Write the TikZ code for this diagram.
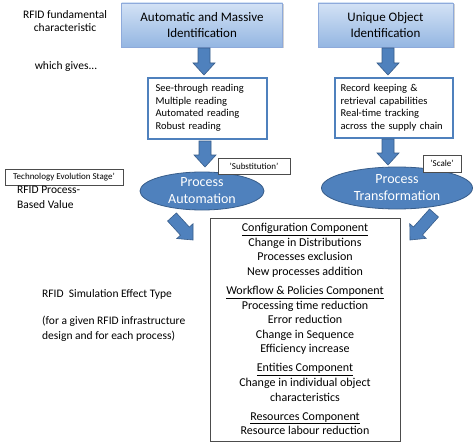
\documentclass[tikz,border=0pt]{standalone}
\usepackage{fontspec}
\setmainfont{Carlito}
\usetikzlibrary{shapes.geometric,shadows,calc}
\definecolor{boxtop}{HTML}{D3E2F5}
\definecolor{boxbot}{HTML}{94B6E2}
\definecolor{boxline}{HTML}{8EAADB}
\definecolor{accent}{HTML}{4F81BD}
\definecolor{accentdark}{HTML}{385D8A}
\tikzset{
  titlebox/.style={draw=boxline, line width=0.8pt, top color=boxtop, bottom color=boxbot,
    drop shadow={shadow xshift=1.5pt, shadow yshift=-1.5pt, opacity=0.35},
    align=center, font=\fontsize{13}{16.5}\selectfont, inner sep=0pt},
  listbox/.style={draw=accent, line width=1.3pt, fill=white, inner sep=0pt},
  listtext/.style={align=left, font=\fontsize{10.5}{12.4}\selectfont, inner sep=0pt, text width=112pt},
  blockarrow/.style={draw=accentdark, line width=0.6pt, fill=accent, line join=miter},
  stage/.style={ellipse, draw=accentdark, line width=0.8pt, fill=accent, text=white,
    align=center, font=\fontsize{14}{17}\selectfont, inner sep=0pt},
  tag/.style={draw=black!70, line width=0.6pt, fill=white, font=\fontsize{9}{11}\selectfont, inner sep=0pt},
  sidetext/.style={align=left, font=\fontsize{11.5}{14.5}\selectfont, inner sep=0pt},
  effectbox/.style={draw=black!70, line width=0.8pt, fill=white, inner sep=0pt}
}
% block arrow from #1 to #2 (shaft half width 6pt, head half width 11pt, head length 12pt)
\newcommand{\blockarrowpath}[2]{%
  \draw[blockarrow]
    ($(#1)!6pt!90:(#2)$) --
    ($($(#2)!12pt!(#1)$)!6pt!-90:(#1)$) --
    ($($(#2)!12pt!(#1)$)!11pt!-90:(#1)$) --
    (#2) --
    ($($(#2)!12pt!(#1)$)!11pt!90:(#1)$) --
    ($($(#2)!12pt!(#1)$)!6pt!90:(#1)$) --
    ($(#1)!6pt!-90:(#2)$) -- cycle;}
\begin{document}
\begin{tikzpicture}[x=1pt,y=-1pt]
\useasboundingbox[fill=white] (0,0) rectangle (474,444);

% top title boxes
\node[titlebox, minimum width=161pt, minimum height=44pt] (t1) at (202,25)
  {Automatic and Massive\\Identification};
\node[titlebox, minimum width=135pt, minimum height=44pt] (t2) at (385.5,25)
  {Unique Object\\Identification};

% list boxes
\node[listbox, minimum width=119pt, minimum height=61pt] (l1) at (207.5,108.5) {};
\node[listtext, anchor=north west] (l1t) at ([xshift=8pt,yshift=-7pt]l1.north west)
  {See-through reading\\Multiple reading\\Automated reading\\Robust reading};
\node[listbox, minimum width=118pt, minimum height=60pt] (l2) at (394,108) {};
\node[listtext, anchor=north west] (l2t) at ([xshift=6pt,yshift=-7pt]l2.north west)
  {Record keeping \&\\retrieval capabilities\\Real-time tracking\\across the supply chain};

% ellipses
\node[stage, minimum width=124pt, minimum height=38pt] (e1) at (202,191) {Process\\Automation};
\node[stage, minimum width=151pt, minimum height=42pt] (e2) at (397,188) {Process\\Transformation};

% tags
\node[tag, minimum width=72pt, minimum height=16pt] (s1) at (254,166) {'Substitution'};
\node[tag, minimum width=38pt, minimum height=17pt] (s2) at (442,163.5) {'Scale'};
\node[tag, minimum width=118pt, minimum height=16pt] (s3) at (64,177) {Technology Evolution Stage'};

% big effect box
\node[effectbox, minimum width=190pt, minimum height=223pt] (eb) at (305,329.5) {};
\node[align=center, inner sep=0pt, anchor=north, font=\fontsize{12}{14.6}\selectfont] (ebt) at (305,223)
  {\underline{Configuration Component}\\
   Change in Distributions\\
   Processes exclusion\\
   New processes addition\\[4.5pt]
   \underline{Workflow \& Policies Component}\\
   Processing time reduction\\
   Error reduction\\
   Change in Sequence\\
   Efficiency increase\\[4.5pt]
   \underline{Entities Component}\\
   Change in individual object\\
   characteristics\\[4.5pt]
   \underline{Resources Component}\\
   Resource labour reduction};

% block arrows (connectors)
\coordinate (a1s) at (204,48);  \coordinate (a1e) at (204,75);
\coordinate (a2s) at (388,48);  \coordinate (a2e) at (388,75);
\coordinate (a3s) at (205,141); \coordinate (a3e) at (205,167);
\coordinate (a4s) at (388,139); \coordinate (a4e) at (388,165);
\coordinate (d1s) at (172,217); \coordinate (d1e) at (193,240);
\coordinate (d2s) at (434,213); \coordinate (d2e) at (410,240);
\blockarrowpath{a1s}{a1e}
\blockarrowpath{a2s}{a2e}
\blockarrowpath{a3s}{a3e}
\blockarrowpath{a4s}{a4e}
\blockarrowpath{d1s}{d1e}
\blockarrowpath{d2s}{d2e}

% side texts
\node[align=center, inner sep=0pt, font=\fontsize{11.5}{13.5}\selectfont] (lab1) at (65,21)
  {RFID fundamental\\characteristic};
\node[inner sep=0pt, font=\fontsize{11.5}{13.5}\selectfont] (lab2) at (66,66) {which gives...};
\node[sidetext, anchor=north west] (lab3) at (17,186) {RFID Process-\\Based Value};
\node[sidetext, anchor=west] (lab4) at (42,294) {RFID\ \ Simulation Effect Type};
\node[sidetext, anchor=north west] (lab5) at (42,316)
  {(for a given RFID infrastructure\\design and for each process)};
\end{tikzpicture}
\end{document}
